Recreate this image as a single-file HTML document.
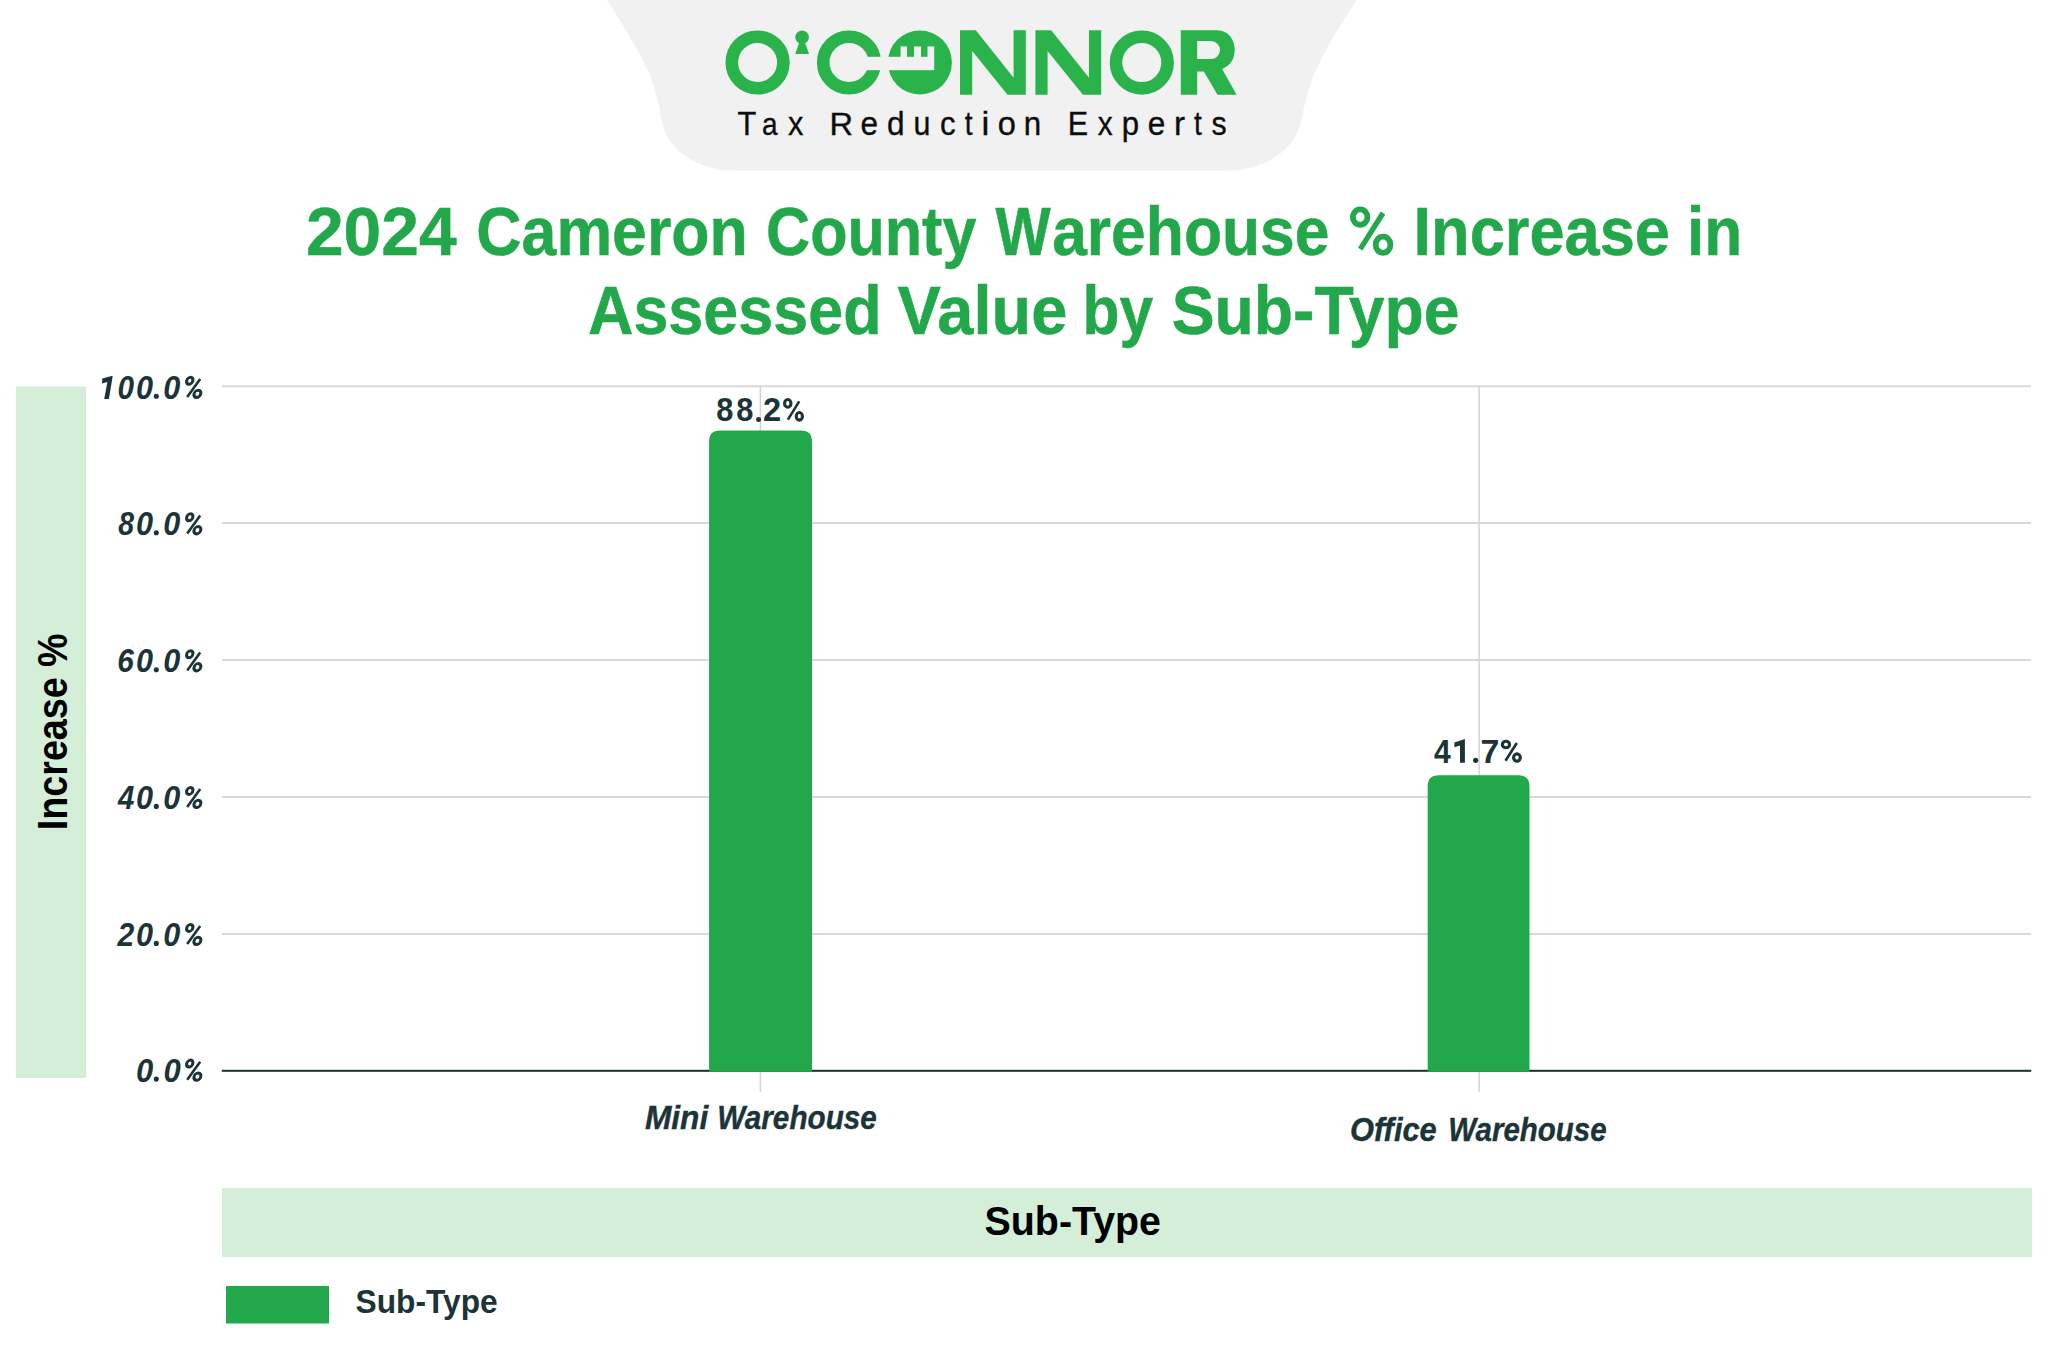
<!DOCTYPE html>
<html>
<head>
<meta charset="utf-8">
<style>
html,body{margin:0;padding:0;background:#ffffff;}
body{width:2048px;height:1351px;overflow:hidden;position:relative;}
svg{position:absolute;left:0;top:0;display:block;}
text{font-family:"Liberation Sans", sans-serif;}
</style>
</head>
<body>
<svg width="2048" height="1351" viewBox="0 0 2048 1351">
  <!-- logo background -->
  <path d="M607 0 C628 33 639 52 646 67 C654 83 659 104 662 122 C667 148 695 170.5 735 170.5 L1226 170.5 C1266 170.5 1295 149 1301 122 C1304.5 104 1309.5 83 1317.5 67 C1324.5 52 1335.5 33 1356.5 0 Z" fill="#f1f1f1"/>

  <!-- logo letters -->
  <g fill="#2bb34b">
    <circle cx="757.6" cy="62.5" r="25.8" fill="none" stroke="#2bb34b" stroke-width="12.6"/>
    <circle cx="802.1" cy="37.2" r="6.8"/>
    <path d="M800.2 40 L804 40 L809.1 54 L795.2 54 Z"/>
    <circle cx="849" cy="62.5" r="25.8" fill="none" stroke="#2bb34b" stroke-width="12.6"/>
    <rect x="849" y="56.8" width="40" height="13.4" fill="#f1f1f1"/>
    <circle cx="919.9" cy="62.5" r="32"/>
    <rect x="880" y="56.8" width="54.2" height="13.4" fill="#f1f1f1"/>
    <rect x="900.6" y="46.4" width="6.4" height="11" fill="#f1f1f1"/>
    <rect x="914.0" y="46.4" width="7.0" height="11" fill="#f1f1f1"/>
    <rect x="927.5" y="46.4" width="6.7" height="11" fill="#f1f1f1"/>
    <path d="M960 30.3 L975.8 30.3 L1013.6 77.7 L1013.6 30.3 L1025.8 30.3 L1025.8 94.7 L1007.5 94.7 L972.2 51.1 L972.2 94.7 L960 94.7 Z"/>
    <path d="M1035.4 30.3 L1051.2 30.3 L1089 77.7 L1089 30.3 L1101.2 30.3 L1101.2 94.7 L1082.9 94.7 L1047.6 51.1 L1047.6 94.7 L1035.4 94.7 Z"/>
    <circle cx="1141.8" cy="62.6" r="25.8" fill="none" stroke="#2bb34b" stroke-width="12.6"/>
    <path fill-rule="evenodd" d="M1180.8 30.3 L1217 30.3 C1228 30.3 1234.7 39 1234.7 50 C1234.7 59 1230 66 1222.2 68.9 L1236.6 94.7 L1217.5 94.7 L1203.9 71.4 L1197.2 71.4 L1197.2 94.7 L1180.8 94.7 Z M1197.2 41.1 L1211 41.1 A9 9 0 0 1 1211 59.1 L1197.2 59.1 Z"/>
  </g>

  <!-- y axis title panel -->
  <rect x="16" y="386.5" width="70" height="691.5" fill="#d4eed8"/>

  <!-- gridlines -->
  <g stroke="#d9d9d9" stroke-width="2">
    <line x1="222" y1="386.2" x2="2031" y2="386.2"/>
    <line x1="222" y1="522.9" x2="2031" y2="522.9"/>
    <line x1="222" y1="659.9" x2="2031" y2="659.9"/>
    <line x1="222" y1="796.9" x2="2031" y2="796.9"/>
    <line x1="222" y1="933.9" x2="2031" y2="933.9"/>
  </g>
  <g stroke="#d4d4d4" stroke-width="1.5">
    <line x1="760.4" y1="386" x2="760.4" y2="1092"/>
    <line x1="1479.1" y1="386" x2="1479.1" y2="1092"/>
  </g>

  <!-- axis line -->
  <rect x="221.8" y="1069.8" width="1809.4" height="2" fill="#1b2e30"/>
  <!-- bars -->
  <g fill="#22a84b">
    <path d="M709.1 1071.8 L709.1 441.4 Q709.1 430.4 720.1 430.4 L801 430.4 Q812 430.4 812 441.4 L812 1071.8 Z"/>
    <path d="M1427.7 1071.8 L1427.7 786.3 Q1427.7 775.3 1438.7 775.3 L1518.5 775.3 Q1529.5 775.3 1529.5 786.3 L1529.5 1071.8 Z"/>
  </g>

  <!-- x axis title band -->
  <rect x="222" y="1188" width="1810" height="69" fill="#d4eed8"/>

  <!-- legend -->
  <rect x="226" y="1286" width="103" height="37.5" fill="#22a84b"/>

  <ellipse transform="translate(1360.15 217.10)" rx="7.35" ry="7.70" fill="none" stroke="#22a84b" stroke-width="5.8"/>
  <ellipse transform="translate(1383.05 244.75)" rx="7.35" ry="8.05" fill="none" stroke="#22a84b" stroke-width="5.8"/>
  <line x1="1360.2" y1="249.20" x2="1383.0" y2="213.00" stroke="#22a84b" stroke-width="5.3"/>
  <ellipse transform="translate(787.75 403.40)" rx="3.20" ry="3.85" fill="none" stroke="#1c3437" stroke-width="3.1"/>
  <ellipse transform="translate(799.35 416.35)" rx="3.10" ry="3.80" fill="none" stroke="#1c3437" stroke-width="3.1"/>
  <line x1="787.9" y1="419.60" x2="799.2" y2="401.40" stroke="#1c3437" stroke-width="2.6"/>
  <ellipse transform="translate(1505.95 744.50)" rx="3.60" ry="3.25" fill="none" stroke="#1c3437" stroke-width="3.1"/>
  <ellipse transform="translate(1516.95 757.55)" rx="3.40" ry="3.70" fill="none" stroke="#1c3437" stroke-width="3.1"/>
  <line x1="1505.5" y1="760.70" x2="1516.8" y2="743.00" stroke="#1c3437" stroke-width="2.6"/>
  <ellipse transform="translate(189.75 380.80) skewX(-12)" rx="3.10" ry="3.50" fill="none" stroke="#1c3437" stroke-width="3.0"/>
  <ellipse transform="translate(197.40 393.85) skewX(-12)" rx="3.40" ry="3.65" fill="none" stroke="#1c3437" stroke-width="3.0"/>
  <line x1="187.2" y1="397.00" x2="200.2" y2="379.00" stroke="#1c3437" stroke-width="2.6"/>
  <ellipse transform="translate(189.75 517.20) skewX(-12)" rx="3.10" ry="3.50" fill="none" stroke="#1c3437" stroke-width="3.0"/>
  <ellipse transform="translate(197.40 530.25) skewX(-12)" rx="3.40" ry="3.65" fill="none" stroke="#1c3437" stroke-width="3.0"/>
  <line x1="187.2" y1="533.40" x2="200.2" y2="515.40" stroke="#1c3437" stroke-width="2.6"/>
  <ellipse transform="translate(189.75 654.20) skewX(-12)" rx="3.10" ry="3.50" fill="none" stroke="#1c3437" stroke-width="3.0"/>
  <ellipse transform="translate(197.40 667.25) skewX(-12)" rx="3.40" ry="3.65" fill="none" stroke="#1c3437" stroke-width="3.0"/>
  <line x1="187.2" y1="670.40" x2="200.2" y2="652.40" stroke="#1c3437" stroke-width="2.6"/>
  <ellipse transform="translate(189.75 790.90) skewX(-12)" rx="3.10" ry="3.50" fill="none" stroke="#1c3437" stroke-width="3.0"/>
  <ellipse transform="translate(197.40 803.95) skewX(-12)" rx="3.40" ry="3.65" fill="none" stroke="#1c3437" stroke-width="3.0"/>
  <line x1="187.2" y1="807.10" x2="200.2" y2="789.10" stroke="#1c3437" stroke-width="2.6"/>
  <ellipse transform="translate(189.75 927.90) skewX(-12)" rx="3.10" ry="3.50" fill="none" stroke="#1c3437" stroke-width="3.0"/>
  <ellipse transform="translate(197.40 940.95) skewX(-12)" rx="3.40" ry="3.65" fill="none" stroke="#1c3437" stroke-width="3.0"/>
  <line x1="187.2" y1="944.10" x2="200.2" y2="926.10" stroke="#1c3437" stroke-width="2.6"/>
  <ellipse transform="translate(189.75 1063.60) skewX(-12)" rx="3.10" ry="3.50" fill="none" stroke="#1c3437" stroke-width="3.0"/>
  <ellipse transform="translate(197.40 1076.65) skewX(-12)" rx="3.40" ry="3.65" fill="none" stroke="#1c3437" stroke-width="3.0"/>
  <line x1="187.2" y1="1079.80" x2="200.2" y2="1061.80" stroke="#1c3437" stroke-width="2.6"/>
  <circle cx="156.3" cy="396.30" r="2.55" fill="#1c3437"/>
  <circle cx="156.3" cy="532.70" r="2.55" fill="#1c3437"/>
  <circle cx="156.3" cy="669.70" r="2.55" fill="#1c3437"/>
  <circle cx="156.3" cy="806.40" r="2.55" fill="#1c3437"/>
  <circle cx="156.3" cy="943.40" r="2.55" fill="#1c3437"/>
  <circle cx="156.3" cy="1079.10" r="2.55" fill="#1c3437"/>
  <circle cx="758.55" cy="419.5" r="2.5" fill="#1c3437"/>
  <circle cx="1475.65" cy="760.3" r="2.6" fill="#1c3437"/>
  <path d="M102.3 378.6 L111.6 375.9 L112.7 376.2 L108.9 398.9 L104.2 398.9 L107.4 382.0 L102.0 383.6 Z" fill="#1c3437"/>
  <path d="M1454.4 742.6 L1464.9 739 L1464.9 762.7 L1460 762.7 L1460 745.4 L1454.4 747.2 Z" fill="#1c3437"/>
  <text transform="translate(305.88 254.90) scale(0.9889 1)" font-size="68.5" font-weight="bold" fill="#22a84b" stroke="#22a84b" stroke-width="0.5">2024</text>
  <text transform="translate(476.34 254.90) scale(0.9147 1)" font-size="68.5" font-weight="bold" fill="#22a84b" stroke="#22a84b" stroke-width="0.5">Cameron</text>
  <text transform="translate(766.09 254.90) scale(0.8916 1)" font-size="68.5" font-weight="bold" fill="#22a84b" stroke="#22a84b" stroke-width="0.5">County</text>
  <text transform="translate(995.40 254.90) scale(0.8531 1)" font-size="68.5" font-weight="bold" fill="#22a84b" stroke="#22a84b" stroke-width="0.5">W</text>
  <text transform="translate(1052.13 254.90) scale(0.9109 1)" font-size="68.5" font-weight="bold" fill="#22a84b" stroke="#22a84b" stroke-width="0.5">arehouse</text>
  <text transform="translate(1413.55 254.90) scale(0.9227 1)" font-size="68.5" font-weight="bold" fill="#22a84b" stroke="#22a84b" stroke-width="0.5">Increase</text>
  <text transform="translate(1686.92 254.90) scale(0.9065 1)" font-size="68.5" font-weight="bold" fill="#22a84b" stroke="#22a84b" stroke-width="0.5">in</text>
  <text transform="translate(588.02 334.10) scale(0.9178 1)" font-size="68.5" font-weight="bold" fill="#22a84b" stroke="#22a84b" stroke-width="0.5">Assessed</text>
  <text transform="translate(897.50 334.10) scale(0.9488 1)" font-size="68.5" font-weight="bold" fill="#22a84b" stroke="#22a84b" stroke-width="0.5">Value</text>
  <text transform="translate(1082.51 334.10) scale(0.8844 1)" font-size="68.5" font-weight="bold" fill="#22a84b" stroke="#22a84b" stroke-width="0.5">by</text>
  <text transform="translate(1171.70 334.10) scale(0.9379 1)" font-size="68.5" font-weight="bold" fill="#22a84b" stroke="#22a84b" stroke-width="0.5">Sub-Type</text>
  <text transform="translate(117.47 398.80) scale(0.8992 1)" font-size="33" font-weight="bold" font-style="italic" fill="#1c3437" >0</text>
  <text transform="translate(135.94 398.80) scale(0.9286 1)" font-size="33" font-weight="bold" font-style="italic" fill="#1c3437" >0</text>
  <text transform="translate(163.14 398.80) scale(0.9286 1)" font-size="33" font-weight="bold" font-style="italic" fill="#1c3437" >0</text>
  <text transform="translate(118.20 535.20) scale(0.8620 1)" font-size="33" font-weight="bold" font-style="italic" fill="#1c3437" >8</text>
  <text transform="translate(135.94 535.20) scale(0.9286 1)" font-size="33" font-weight="bold" font-style="italic" fill="#1c3437" >0</text>
  <text transform="translate(163.14 535.20) scale(0.9286 1)" font-size="33" font-weight="bold" font-style="italic" fill="#1c3437" >0</text>
  <text transform="translate(117.27 672.20) scale(0.9012 1)" font-size="33" font-weight="bold" font-style="italic" fill="#1c3437" >6</text>
  <text transform="translate(135.94 672.20) scale(0.9286 1)" font-size="33" font-weight="bold" font-style="italic" fill="#1c3437" >0</text>
  <text transform="translate(163.14 672.20) scale(0.9286 1)" font-size="33" font-weight="bold" font-style="italic" fill="#1c3437" >0</text>
  <text transform="translate(117.92 808.90) scale(0.8911 1)" font-size="33" font-weight="bold" font-style="italic" fill="#1c3437" >4</text>
  <text transform="translate(135.94 808.90) scale(0.9286 1)" font-size="33" font-weight="bold" font-style="italic" fill="#1c3437" >0</text>
  <text transform="translate(163.14 808.90) scale(0.9286 1)" font-size="33" font-weight="bold" font-style="italic" fill="#1c3437" >0</text>
  <text transform="translate(117.47 945.90) scale(0.9158 1)" font-size="33" font-weight="bold" font-style="italic" fill="#1c3437" >2</text>
  <text transform="translate(135.94 945.90) scale(0.9286 1)" font-size="33" font-weight="bold" font-style="italic" fill="#1c3437" >0</text>
  <text transform="translate(163.14 945.90) scale(0.9286 1)" font-size="33" font-weight="bold" font-style="italic" fill="#1c3437" >0</text>
  <text transform="translate(136.03 1081.60) scale(0.9403 1)" font-size="33" font-weight="bold" font-style="italic" fill="#1c3437" >0</text>
  <text transform="translate(163.43 1081.60) scale(0.9403 1)" font-size="33" font-weight="bold" font-style="italic" fill="#1c3437" >0</text>
  <text transform="translate(716.34 421.40) scale(0.9333 1)" font-size="33" font-weight="bold" fill="#1c3437" >8</text>
  <text transform="translate(736.14 421.40) scale(0.9333 1)" font-size="33" font-weight="bold" fill="#1c3437" >8</text>
  <text transform="translate(762.98 421.40) scale(0.9879 1)" font-size="33" font-weight="bold" fill="#1c3437" >2</text>
  <text transform="translate(1434.10 762.80) scale(0.8968 1)" font-size="33.5" font-weight="bold" fill="#1c3437" >4</text>
  <text transform="translate(1480.44 762.80) scale(1.0107 1)" font-size="33.5" font-weight="bold" fill="#1c3437" >7</text>
  <text transform="translate(644.90 1128.60) scale(0.9325 1)" font-size="34" font-weight="bold" font-style="italic" fill="#1c3437" stroke="#1c3437" stroke-width="0.4">Mini</text>
  <text transform="translate(717.34 1128.60) scale(0.8732 1)" font-size="34" font-weight="bold" font-style="italic" fill="#1c3437" stroke="#1c3437" stroke-width="0.4">Warehouse</text>
  <text transform="translate(1349.95 1140.80) scale(0.9067 1)" font-size="34" font-weight="bold" font-style="italic" fill="#1c3437" stroke="#1c3437" stroke-width="0.4">Office</text>
  <text transform="translate(1448.26 1140.80) scale(0.8671 1)" font-size="34" font-weight="bold" font-style="italic" fill="#1c3437" stroke="#1c3437" stroke-width="0.4">Warehouse</text>
  <text transform="translate(984.58 1234.80) scale(0.9485 1)" font-size="41.5" font-weight="bold" fill="#000000" >Sub-Type</text>
  <text transform="translate(355.60 1313.30) scale(0.9585 1)" font-size="33.1" font-weight="bold" fill="#1c3437" >Sub-Type</text>
  <text transform="translate(737.42 134.90) scale(0.9532 1)" font-size="32.3" fill="#0d0d0d" stroke="#0d0d0d" stroke-width="0.35">T</text>
  <text transform="translate(761.92 134.90) scale(0.8683 1)" font-size="32.3" fill="#0d0d0d" stroke="#0d0d0d" stroke-width="0.35">a</text>
  <text transform="translate(788.10 134.90) scale(0.9536 1)" font-size="32.3" fill="#0d0d0d" stroke="#0d0d0d" stroke-width="0.35">x</text>
  <text transform="translate(829.55 134.90) scale(1.0110 1)" font-size="32.3" fill="#0d0d0d" stroke="#0d0d0d" stroke-width="0.35">R</text>
  <text transform="translate(860.61 134.90) scale(0.9779 1)" font-size="32.3" fill="#0d0d0d" stroke="#0d0d0d" stroke-width="0.35">e</text>
  <text transform="translate(887.11 134.90) scale(0.9775 1)" font-size="32.3" fill="#0d0d0d" stroke="#0d0d0d" stroke-width="0.35">d</text>
  <text transform="translate(913.40 134.90) scale(0.9412 1)" font-size="32.3" fill="#0d0d0d" stroke="#0d0d0d" stroke-width="0.35">u</text>
  <text transform="translate(940.02 134.90) scale(0.9702 1)" font-size="32.3" fill="#0d0d0d" stroke="#0d0d0d" stroke-width="0.35">c</text>
  <text transform="translate(964.70 134.90) scale(0.8696 1)" font-size="32.3" fill="#0d0d0d" stroke="#0d0d0d" stroke-width="0.35">t</text>
  <text transform="translate(981.60 134.90) scale(1.0898 1)" font-size="32.3" fill="#0d0d0d" stroke="#0d0d0d" stroke-width="0.35">i</text>
  <text transform="translate(997.68 134.90) scale(1.0099 1)" font-size="32.3" fill="#0d0d0d" stroke="#0d0d0d" stroke-width="0.35">o</text>
  <text transform="translate(1023.74 134.90) scale(0.9695 1)" font-size="32.3" fill="#0d0d0d" stroke="#0d0d0d" stroke-width="0.35">n</text>
  <text transform="translate(1067.71 134.90) scale(0.9454 1)" font-size="32.3" fill="#0d0d0d" stroke="#0d0d0d" stroke-width="0.35">E</text>
  <text transform="translate(1097.80 134.90) scale(0.9226 1)" font-size="32.3" fill="#0d0d0d" stroke="#0d0d0d" stroke-width="0.35">x</text>
  <text transform="translate(1121.76 134.90) scale(0.9634 1)" font-size="32.3" fill="#0d0d0d" stroke="#0d0d0d" stroke-width="0.35">p</text>
  <text transform="translate(1147.81 134.90) scale(0.9779 1)" font-size="32.3" fill="#0d0d0d" stroke="#0d0d0d" stroke-width="0.35">e</text>
  <text transform="translate(1173.93 134.90) scale(1.0257 1)" font-size="32.3" fill="#0d0d0d" stroke="#0d0d0d" stroke-width="0.35">r</text>
  <text transform="translate(1194.00 134.90) scale(0.8696 1)" font-size="32.3" fill="#0d0d0d" stroke="#0d0d0d" stroke-width="0.35">t</text>
  <text transform="translate(1211.53 134.90) scale(0.9361 1)" font-size="32.3" fill="#0d0d0d" stroke="#0d0d0d" stroke-width="0.35">s</text>
  <text transform="translate(67.1 830.15) rotate(-90) scale(0.8819 1)" font-size="42.7" font-weight="bold" fill="#000">Increase %</text>
</svg>
</body>
</html>
